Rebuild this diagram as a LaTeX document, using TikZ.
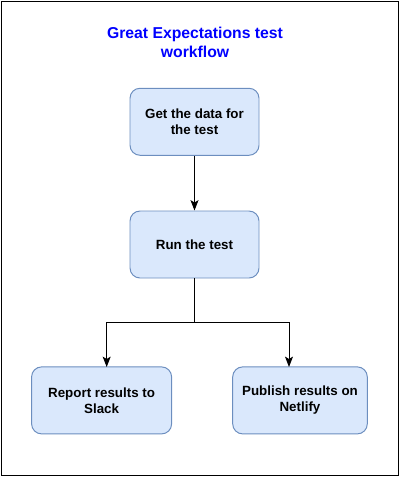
\documentclass[tikz,border=0pt]{standalone}
\usepackage{fontspec}
\setmainfont{Liberation Sans}
\usetikzlibrary{arrows.meta}

\definecolor{boxfill}{HTML}{DAE8FC}
\definecolor{boxline}{HTML}{6C8EBF}
\definecolor{titleblue}{HTML}{0000FF}

\tikzset{
  stepbox/.style={draw=boxline, fill=boxfill, rounded corners=0.25cm,
    line width=0.7pt, align=center, inner sep=0pt,
    font=\fontsize{9.5}{11.4}\selectfont\bfseries},
  flow/.style={line width=0.7pt, -{Stealth[length=2.6mm, width=2mm, inset=0.6mm]}}
}

\begin{document}
\begin{tikzpicture}
  \useasboundingbox (0, 0) rectangle (10, -11.925);
  \draw[line width=0.7pt] (0.03, -0.03) rectangle (9.95, -11.875);

  \node[align=center, text=titleblue, font=\fontsize{11.2}{13.5}\selectfont\bfseries] (title) at (4.875, -1.06) {Great Expectations test\\workflow};

  \node[stepbox, minimum width=3.225cm, minimum height=1.675cm] (getdata) at (4.8625, -3.044) {Get the data for\\the test};
  \node[stepbox, minimum width=3.225cm, minimum height=1.675cm] (runtest) at (4.8625, -6.1125) {Run the test};
  \node[stepbox, minimum width=3.5cm, minimum height=1.675cm] (report) at (2.54, -10.01) {Report results to\\Slack};
  \node[stepbox, minimum width=3.365cm, minimum height=1.675cm] (publish) at (7.5, -10.01) {Publish results on\\Netlify};

  \coordinate (split) at (4.8625, -8.07);
  \coordinate (reportin) at (2.667, -9.175);
  \coordinate (publishin) at (7.225, -9.175);

  \draw[flow] (getdata) -- (runtest);
  \draw[line width=0.7pt] (runtest) -- (split);
  \draw[flow] (split) -| (reportin);
  \draw[flow] (split) -| (publishin);
\end{tikzpicture}
\end{document}
